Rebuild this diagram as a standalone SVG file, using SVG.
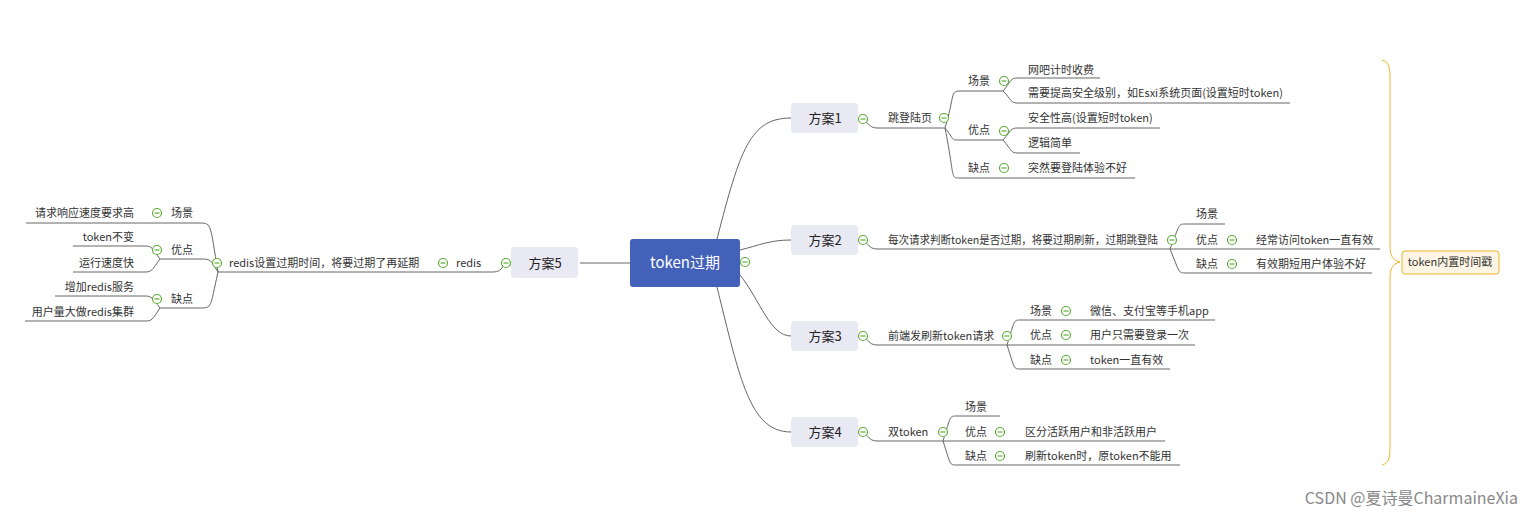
<svg xmlns="http://www.w3.org/2000/svg" width="1533" height="518" viewBox="0 0 1533 518">
<defs>
<style>
text{font-family:"Microsoft YaHei","Noto Sans CJK SC",sans-serif;font-size:11px;fill:#333}
.b{font-size:13px;fill:#222}
.r{text-anchor:end}
.m{text-anchor:middle}
.box{fill:#e9e9f3}
.ln{fill:none;stroke:#666;stroke-width:1}
.c{fill:#fff;stroke:#5fae3a;stroke-width:1.2}
.cm{stroke:#5fae3a;stroke-width:1.2}
</style>
<g id="minus"><circle class="c" cx="0" cy="0" r="4.5"/><line class="cm" x1="-2.5" y1="0" x2="2.5" y2="0"/></g>
</defs>
<rect width="1533" height="518" fill="#fff"/>
<g id="connectors">
<path class="ln" d="M717,239 C740,150 750,118 791,118"/>
<path class="ln" d="M740,250 C760,245 770,240 791,240"/>
<path class="ln" d="M740,275 C760,300 770,336 791,336"/>
<path class="ln" d="M717,287 C740,380 750,432 791,432"/>
<path class="ln" d="M580,263 H630"/>
<path class="ln" d="M863,119 C870,125 870,128 878,128 H945"/>
<path class="ln" d="M945,128 C955,95 950,91 960,91 H1003"/>
<path class="ln" d="M945,128 C955,140 950,140 960,140 H1003"/>
<path class="ln" d="M945,128 C955,178 950,178 960,178 H1135"/>
<path class="ln" d="M1003,91 C1012,80 1010,78 1018,78 H1100"/>
<path class="ln" d="M1003,91 C1012,100 1010,103 1018,103 H1290"/>
<path class="ln" d="M1003,140 C1012,130 1010,128 1018,128 H1160"/>
<path class="ln" d="M1003,140 C1012,150 1010,153 1018,153 H1080"/>
<path class="ln" d="M863,240 C870,246 870,249 878,249 H1170"/>
<path class="ln" d="M1170,249 C1180,224 1178,224 1186,224 H1225"/>
<path class="ln" d="M1170,249 H1380"/>
<path class="ln" d="M1170,249 C1180,273 1178,273 1186,273 H1372"/>
<path class="ln" d="M863,336 C870,342 870,345 878,345 H1007"/>
<path class="ln" d="M1007,345 C1015,320 1013,320 1021,320 H1215"/>
<path class="ln" d="M1007,345 H1195"/>
<path class="ln" d="M1007,345 C1015,369 1013,369 1021,369 H1170"/>
<path class="ln" d="M863,432 C870,438 870,441 878,441 H943"/>
<path class="ln" d="M943,441 C951,416 949,416 957,416 H1000"/>
<path class="ln" d="M943,441 H1165"/>
<path class="ln" d="M943,441 C951,465 949,465 957,465 H1180"/>
<path class="ln" d="M506,263 C500,270 500,272 492,272 H218"/>
<path class="ln" d="M218,272 C210,225 212,223 200,223 H26"/>
<path class="ln" d="M218,272 C210,260 212,259 200,259 H160"/>
<path class="ln" d="M218,272 C210,308 212,308 200,308 H160"/>
<path class="ln" d="M160,259 C152,248 152,246 145,246 H73"/>
<path class="ln" d="M160,259 C152,270 152,272 145,272 H73"/>
<path class="ln" d="M160,308 C152,298 152,296 145,296 H55"/>
<path class="ln" d="M160,308 C152,320 152,321 145,321 H25"/>
<path fill="none" stroke="#f0b429" stroke-width="1" d="M1382,60 C1390,62 1390,70 1390,80 V245 C1390,255 1392,260 1400,262 C1392,264 1390,269 1390,279 V445 C1390,455 1390,463 1382,465"/>
</g>
<g id="center"><rect x="630" y="239" width="110" height="48" rx="3" fill="#4361b9"/><text x="685" y="268" class="m" style="font-size:15px;fill:#fff">token过期</text><use href="#minus" x="745" y="262"/></g>
<g id="n1"><rect class="box" x="791" y="103" width="67" height="30" rx="4"/><text class="b m" x="825" y="123">方案1</text><use href="#minus" x="863" y="119"/></g>
<g id="n1a"><text x="888" y="122">跳登陆页</text><use href="#minus" x="944" y="118"/></g>
<g id="n1b"><text x="968" y="85">场景</text><use href="#minus" x="1004" y="81"/><text x="1028" y="74">网吧计时收费</text><text x="1028" y="97">需要提高安全级别，如Esxi系统页面(设置短时token)</text></g>
<g id="n1c"><text x="968" y="134">优点</text><use href="#minus" x="1004" y="131"/><text x="1028" y="122">安全性高(设置短时token)</text><text x="1028" y="147">逻辑简单</text></g>
<g id="n1d"><text x="968" y="172">缺点</text><use href="#minus" x="1004" y="168"/><text x="1028" y="172">突然要登陆体验不好</text></g>
<g id="n2"><rect class="box" x="791" y="225" width="67" height="30" rx="4"/><text class="b m" x="825" y="245">方案2</text><use href="#minus" x="863" y="240"/></g>
<g id="n2a"><text x="888" y="244" textLength="270" lengthAdjust="spacingAndGlyphs">每次请求判断token是否过期，将要过期刷新，过期跳登陆</text><use href="#minus" x="1172" y="240"/>
<text x="1196" y="218">场景</text><text x="1196" y="244">优点</text><use href="#minus" x="1232" y="240"/><text x="1256" y="244">经常访问token一直有效</text>
<text x="1196" y="268">缺点</text><use href="#minus" x="1232" y="264"/><text x="1256" y="268">有效期短用户体验不好</text></g>
<g id="n3"><rect class="box" x="791" y="321" width="67" height="30" rx="4"/><text class="b m" x="825" y="341">方案3</text><use href="#minus" x="863" y="336"/></g>
<g id="n3a"><text x="888" y="340">前端发刷新token请求</text><use href="#minus" x="1007" y="336"/>
<text x="1030" y="315">场景</text><use href="#minus" x="1066" y="311"/><text x="1090" y="315">微信、支付宝等手机app</text>
<text x="1030" y="339">优点</text><use href="#minus" x="1066" y="335"/><text x="1090" y="339">用户只需要登录一次</text>
<text x="1030" y="364">缺点</text><use href="#minus" x="1066" y="360"/><text x="1090" y="364">token一直有效</text></g>
<g id="n4"><rect class="box" x="791" y="417" width="67" height="30" rx="4"/><text class="b m" x="825" y="437">方案4</text><use href="#minus" x="863" y="432"/></g>
<g id="n4a"><text x="888" y="436">双token</text><use href="#minus" x="943" y="432"/>
<text x="965" y="411">场景</text><text x="965" y="436">优点</text><use href="#minus" x="1000" y="432"/><text x="1025" y="436">区分活跃用户和非活跃用户</text>
<text x="965" y="460">缺点</text><use href="#minus" x="1000" y="456"/><text x="1025" y="460">刷新token时，原token不能用</text></g>
<g id="n5"><rect class="box" x="511" y="247" width="67" height="31" rx="4"/><text class="b m" x="545" y="268">方案5</text><use href="#minus" x="506" y="263"/></g>
<g id="n5a"><text x="456" y="267">redis</text><use href="#minus" x="443" y="263"/><text x="229" y="267">redis设置过期时间，将要过期了再延期</text><use href="#minus" x="217" y="263"/>
<text x="171" y="217">场景</text><use href="#minus" x="157" y="213"/><text class="r" x="134" y="217">请求响应速度要求高</text>
<text x="171" y="254">优点</text><use href="#minus" x="157" y="250"/><text class="r" x="134" y="241">token不变</text><text class="r" x="134" y="267">运行速度快</text>
<text x="171" y="303">缺点</text><use href="#minus" x="157" y="299"/><text class="r" x="134" y="291">增加redis服务</text><text class="r" x="134" y="316">用户量大做redis集群</text></g>
<g id="note"><rect x="1402" y="251" width="97" height="23" rx="3" fill="#fef6e4" stroke="#f0b429"/><text class="m" x="1450" y="266">token内置时间戳</text></g>
<text x="1518" y="504" style="font-size:16px;fill:#888;text-anchor:end">CSDN @夏诗曼CharmaineXia</text>
</svg>
